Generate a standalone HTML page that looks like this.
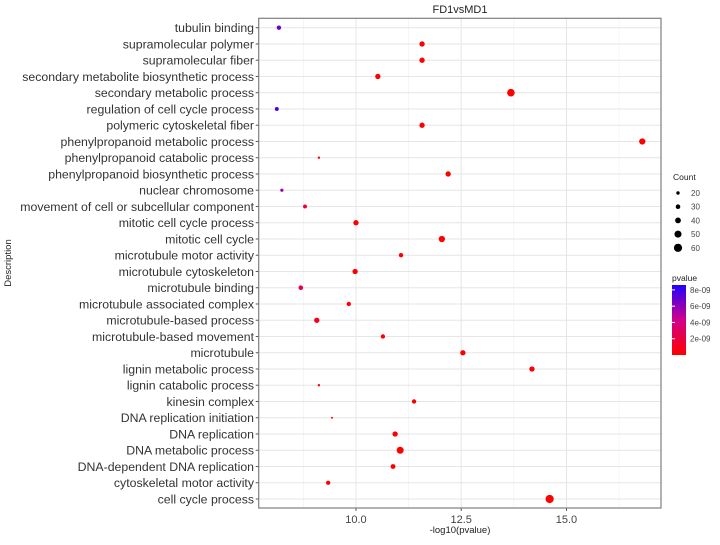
<!DOCTYPE html>
<html><head><meta charset="utf-8"><style>
body{margin:0;background:#fff;}
svg text{font-family:"Liberation Sans",Arial,sans-serif;}
</style></head><body>
<svg id="chart" width="720" height="540" xmlns="http://www.w3.org/2000/svg">
<rect width="720" height="540" fill="#fff"/>
<text x="460" y="13" font-size="11" fill="#222" text-anchor="middle">FD1vsMD1</text>
<g id="grid"></g><g id="ylabels"></g><g id="xlabels"></g><g id="dots"></g>
<rect x="258.7" y="18.3" width="402.3" height="489.7" fill="none" stroke="#7f7f7f" stroke-width="1.2"/>
<text x="460" y="533" font-size="9.5" fill="#222" text-anchor="middle">-log10(pvalue)</text>
<text transform="translate(11,263) rotate(-90)" font-size="9.5" fill="#222" text-anchor="middle">Description</text>
<g>
<text x="673" y="180" font-size="8.5" fill="#222">Count</text>
<g id="sizeLegend"></g>
</g>
<g>
<text x="672" y="281" font-size="8.5" fill="#222">pvalue</text>
<defs><linearGradient id="pg" x1="0" y1="1" x2="0" y2="0"><stop offset="0" stop-color="#ff0000"/><stop offset="0.5" stop-color="#d0008a"/><stop offset="1" stop-color="#2000ff"/></linearGradient></defs>
<rect x="672" y="285" width="14" height="70" fill="url(#pg)"/>
<g id="cbLabels"></g>
</g>
</svg>
<script>
const categories=["tubulin binding","supramolecular polymer","supramolecular fiber","secondary metabolite biosynthetic process","secondary metabolic process","regulation of cell cycle process","polymeric cytoskeletal fiber","phenylpropanoid metabolic process","phenylpropanoid catabolic process","phenylpropanoid biosynthetic process","nuclear chromosome","movement of cell or subcellular component","mitotic cell cycle process","mitotic cell cycle","microtubule motor activity","microtubule cytoskeleton","microtubule binding","microtubule associated complex","microtubule-based process","microtubule-based movement","microtubule","lignin metabolic process","lignin catabolic process","kinesin complex","DNA replication initiation","DNA replication","DNA metabolic process","DNA-dependent DNA replication","cytoskeletal motor activity","cell cycle process"];
const negLogP=[8.17,11.57,11.57,10.52,13.68,8.12,11.57,16.8,9.12,12.19,8.24,8.79,10.0,12.04,11.07,9.98,8.69,9.83,9.07,10.64,12.54,14.18,9.12,11.38,9.43,10.93,11.05,10.88,9.34,14.6];
const counts=[28,36,36,36,55,24,36,44,12,36,18,24,36,44,28,36,30,28,36,28,36,36,12,28,8,36,50,32,28,60];
const xTicks=[10,12.5,15];
const xTickLabels=["10.0","12.5","15.0"];
const sizeLegendCounts=[20,30,40,50,60];
const cbValues=[8e-9,6e-9,4e-9,2e-9];
const cbLabels=["8e-09","6e-09","4e-09","2e-09"];

const NS="http://www.w3.org/2000/svg";
const X0=258.7,X1=661,Y0=18.3,Y1=508,dMin=7.69,dMax=17.245;
const xs=v=>X0+(v-dMin)/(dMax-dMin)*(X1-X0);
const ys=i=>27.7+i*(499-27.7)/(categories.length-1);
const rs=c=>0.5+c*0.06;
const pMax=8.6e-9;
function col(p){let t=Math.min(1,Math.max(0,p/pMax));
 let r,g,b; if(t<0.5){const u=t/0.5;r=255+(208-255)*u;g=0;b=138*u;}else{const u=(t-0.5)/0.5;r=208+(32-208)*u;g=0;b=138+(255-138)*u;}
 return `rgb(${r|0},${g|0},${b|0})`;}
function mk(tag,attrs,parent){const e=document.createElementNS(NS,tag);for(const k in attrs)e.setAttribute(k,attrs[k]);parent.appendChild(e);return e;}
const grid=document.getElementById('grid');
mk('rect',{x:X0,y:Y0,width:X1-X0,height:Y1-Y0,fill:'#fff'},grid);
const minor=[];for(let i=0;i<xTicks.length;i++){minor.push(xTicks[i]-1.25);}minor.push(xTicks[xTicks.length-1]+1.25);
minor.forEach(v=>{const l=mk('line',{x1:xs(v),x2:xs(v),y1:Y0,y2:Y1,stroke:'#f0f0f0','stroke-width':0.6},grid);

});
xTicks.forEach((v,i)=>{const l=mk('line',{x1:xs(v),x2:xs(v),y1:Y0,y2:Y1,stroke:'#e6e6e6','stroke-width':1},grid);


const tk=mk('line',{x1:xs(v),x2:xs(v),y1:Y1,y2:Y1+3,stroke:'#555'},grid);


const t=mk('text',{x:xs(v),y:Y1+15,'font-size':11,fill:'#444','text-anchor':'middle'},document.getElementById('xlabels'));
t.textContent=xTickLabels[i];

});
categories.forEach((c,i)=>{const y=ys(i);
const l=mk('line',{x1:X0,x2:X1,y1:y,y2:y,stroke:'#e6e6e6','stroke-width':1},grid);


const tk=mk('line',{x1:X0-3,x2:X0,y1:y,y2:y,stroke:'#555'},grid);


const t=mk('text',{x:254,y:y+4.3,'font-size':12.3,fill:'#333','text-anchor':'end'},document.getElementById('ylabels'));
t.textContent=c;


const d=mk('circle',{cx:xs(negLogP[i]),cy:y,r:rs(counts[i]),fill:col(Math.pow(10,-negLogP[i]))},document.getElementById('dots'));

});
const sl=document.getElementById('sizeLegend');
sizeLegendCounts.forEach((c,i)=>{const y=193+i*13.7;
const d=mk('circle',{cx:678,cy:y,r:rs(c),fill:'#000'},sl);


const t=mk('text',{x:691,y:y+3,'font-size':8,fill:'#444'},sl);t.textContent=c;

});
const cb=document.getElementById('cbLabels');
cbValues.forEach((v,i)=>{const y=355-v/pMax*70;
const tk=mk('line',{x1:672,x2:675,y1:y,y2:y,stroke:'#fff'},cb);


const t=mk('text',{x:690,y:y+3,'font-size':8,fill:'#444'},cb);t.textContent=cbLabels[i];

});
</script>
</body></html>
